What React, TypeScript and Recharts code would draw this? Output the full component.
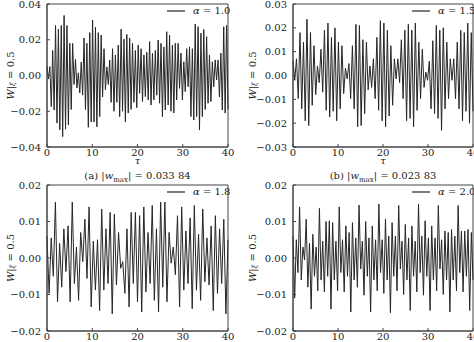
import React from "react";
import { LineChart, Line, XAxis, YAxis, ReferenceArea, Legend } from "recharts";

const FONT = "'DejaVu Serif', 'Liberation Serif', serif";
const INK = "#222";

const tauTicks = [0, 10, 20, 30, 40];
const ticksA = [-0.04, -0.02, 0, 0.02, 0.04];
const ticksB = [-0.03, -0.02, -0.01, 0, 0.01, 0.02, 0.03];
const ticksCD = [-0.02, -0.01, 0, 0.01, 0.02];

// (a) alpha = 1.0 : successive maxima / minima of W at xi = 0.5
const peaksA = [
  0.0053, 0.005, 0.014, 0.028, 0.026, 0.028, 0.0336, 0.028, 0.018, 0.018, 0.009,
  0.0015, 0.0075, 0.021, 0.018, 0.024, 0.031, 0.027, 0.024, 0.0226, 0.015, 0.0048,
  0.0087, 0.015, 0.0115, 0.017, 0.026, 0.0203, 0.023, 0.021, 0.018, 0.014, 0.017,
  0.015, 0.0115, 0.013, 0.019, 0.0124, 0.014, 0.0198, 0.018, 0.016, 0.0245, 0.0226,
  0.017, 0.018, 0.018, 0.0125, 0.0077, 0.015, 0.016, 0.015, 0.0288, 0.0273, 0.0237,
  0.0258, 0.0217, 0.0115, 0.0077, 0.0087, 0.0087, 0.0125, 0.0273, 0.028,
];
const troughsA = [
  -0.002, -0.0174, -0.0193, -0.0266, -0.0304, -0.0342, -0.03, -0.0277, -0.019, -0.005,
  -0.007, -0.0098, -0.011, -0.019, -0.029, -0.026, -0.026, -0.0287, -0.023, -0.012,
  -0.008, -0.005, -0.015, -0.02, -0.015, -0.023, -0.02, -0.026, -0.021, -0.019, -0.015,
  -0.018, -0.01, -0.0146, -0.0118, -0.0137, -0.0165, -0.0137, -0.011, -0.0155, -0.023,
  -0.0193, -0.0165, -0.02, -0.021, -0.0137, -0.0072, -0.0137, -0.009, -0.0063, -0.023,
  -0.0249, -0.023, -0.0305, -0.023, -0.019, -0.0155, -0.0146, -0.0063, -0.0025, -0.012,
  -0.0193, -0.021, -0.019,
];

// (b) alpha = 1.5
const peaksB = [
  0.006, 0.007, 0.018, 0.014, 0.0236, 0.018, 0.0125, 0.004,
  0.011, 0.019, 0.022, 0.016, 0.02, 0.014, 0.0125, 0.003,
  0.005, 0.0125, 0.0215, 0.021, 0.015, 0.014, 0.004,
  0.007, 0.016, 0.023, 0.022, 0.019, 0.0125, 0.007, 0.007,
  0.015, 0.019, 0.0215, 0.019, 0.022, 0.014, 0.011, 0.0014,
  0.006, 0.0146, 0.021, 0.019, 0.02, 0.014, 0.007,
  0.007, 0.014, 0.019, 0.018, 0.022, 0.018,
];
const troughsB = [
  -0.002, -0.0097, -0.014, -0.019, -0.021, -0.0125, -0.008, -0.003,
  -0.007, -0.0146, -0.0174, -0.015, -0.019, -0.014, -0.0076, -0.0014,
  -0.0097, -0.014, -0.0215, -0.021, -0.016, -0.006, -0.005,
  -0.0097, -0.0146, -0.019, -0.0215, -0.017, -0.0125, -0.0014, -0.003,
  -0.0097, -0.019, -0.018, -0.0215, -0.0146, -0.0097, -0.005, -0.002,
  -0.014, -0.016, -0.018, -0.023, -0.014, -0.0097, -0.002,
  -0.0097, -0.014, -0.019, -0.015, -0.02, -0.015,
];

// (c) alpha = 1.8
const peaksC = [
  0.006, 0.0055, 0.0153, 0.004, 0.008, 0.0088, 0.0153, 0.003, 0.007, 0.0106, 0.014,
  0.0046, 0.005, 0.0134, 0.008, 0.0125, 0.012, 0.007, -0.001, 0.008, 0.0125, 0.0125,
  0.0116, 0.014, 0.007, 0.0144, 0.008, 0.0153, 0.0153, 0.007, 0.003, 0.0116, 0.014,
  0.0074, 0.011, 0.0144, 0.0065, 0.0134, 0.0055, 0.0088, 0.0116, 0.008, 0.0106, 0.005,
];
const troughsC = [
  -0.0097, -0.005, -0.012, -0.008, -0.0037, -0.012, -0.007, -0.0116, -0.001, -0.0056,
  -0.0134, -0.0088, -0.0144, -0.0088, -0.007, -0.0153, -0.0074, -0.0028, -0.0097,
  -0.0134, -0.007, -0.012, -0.0148, -0.0093, -0.007, -0.0116, -0.0148, -0.008, -0.012,
  -0.0014, -0.0046, -0.0134, -0.0088, -0.007, -0.0139, -0.0088, -0.0116, -0.0065,
  -0.0074, -0.0144, -0.0097, -0.007, -0.0153,
];

// (d) alpha = 2.0
const peaksD = [
  0.006, 0.005, 0.014, 0.003, 0.0106, 0.004, 0.0065, 0.003, 0.0136, 0.0046, 0.01,
  0.0102, 0.0097, 0.0046, 0.014, 0.005, 0.0088, 0.007, 0.0097, 0.0055, 0.0145, 0.0046,
  0.01, 0.0055, 0.0088, 0.005, 0.0148, 0.005, 0.0106, 0.006, 0.0097, 0.006, 0.0144,
  0.0046, 0.0092, 0.0055, 0.0088, 0.0046, 0.0148, 0.006, 0.0102, 0.0055, 0.0088, 0.0055,
  0.0144, 0.005, 0.0074, 0.007, 0.0078, 0.006, 0.0144, 0.0074, 0.0074, 0.0078, 0.007,
];
const troughsD = [
  -0.011, -0.004, -0.006, -0.0005, -0.008, -0.014, -0.005, -0.009, -0.006, -0.0093,
  -0.005, -0.014, -0.006, -0.009, -0.004, -0.0093, -0.005, -0.0148, -0.006, -0.008,
  -0.003, -0.0102, -0.005, -0.0148, -0.006, -0.009, -0.004, -0.0097, -0.006, -0.015,
  -0.005, -0.009, -0.003, -0.01, -0.006, -0.0144, -0.005, -0.0093, -0.004, -0.0102,
  -0.005, -0.0144, -0.006, -0.009, -0.003, -0.01, -0.006, -0.0148, -0.006, -0.009,
  -0.004, -0.0093, -0.005, -0.0144, -0.006,
];

// alternate max / min values along tau in [0, 40]
function toSeries(peaks: number[], troughs: number[]) {
  const vals: number[] = [];
  const n = Math.max(peaks.length, troughs.length);
  for (let i = 0; i < n; i++) {
    if (i < peaks.length) vals.push(peaks[i]);
    if (i < troughs.length) vals.push(troughs[i]);
  }
  const step = 40 / (vals.length - 1);
  return vals.map((w, i) => ({ t: i * step, w }));
}

const fmt = (v: number) => (v < 0 ? "\u2212" : "") + Math.abs(v).toFixed(2);

function YLabel(props: any) {
  const { viewBox, dx } = props;
  const x = viewBox.x + dx;
  const y = viewBox.y + viewBox.height / 2;
  return (
    <text
      x={x}
      y={y}
      transform={`rotate(-90 ${x} ${y})`}
      textAnchor="middle"
      dominantBaseline="central"
      fill={INK}
      fontSize={10}
      fontFamily={FONT}
    >
      <tspan fontStyle="italic">W</tspan>
      <tspan>|</tspan>
      <tspan fontStyle="italic" fontSize={7} dy={3}>ξ</tspan>
      <tspan dy={-3}> = 0.5</tspan>
    </text>
  );
}

function Panel(props: any) {
  const { left, top, width, margin, yWidth, yTicks, peaks, troughs, alpha, legendLeft, labelDx } = props;
  const data = toSeries(peaks, troughs);
  const ymin = yTicks[0];
  const ymax = yTicks[yTicks.length - 1];
  const tickStyle = { fill: INK, fontSize: 10, fontFamily: FONT };
  return (
    <div style={{ position: "absolute", left, top }}>
      <LineChart width={width} height={175} data={data} margin={margin}>
        <XAxis
          dataKey="t"
          type="number"
          domain={[0, 40]}
          ticks={tauTicks}
          interval={0}
          height={20}
          tickSize={-3}
          tickMargin={5}
          stroke="#444"
          tick={tickStyle}
        />
        <YAxis
          type="number"
          domain={[ymin, ymax]}
          ticks={yTicks}
          interval={0}
          width={yWidth}
          tickSize={-3}
          tickMargin={9}
          tickFormatter={fmt}
          stroke="#444"
          tick={tickStyle}
          label={<YLabel dx={labelDx} />}
        />
        <ReferenceArea x1={0} x2={40} y1={ymin} y2={ymax} fill="none" stroke="#444" strokeWidth={1} />
        <Line
          dataKey="w"
          type="linear"
          dot={false}
          stroke="#262626"
          strokeWidth={1}
          isAnimationActive={false}
        />
        <Legend
          layout="vertical"
          align="center"
          verticalAlign="middle"
          wrapperStyle={{ left: legendLeft, top: margin.top, width: 80, height: 14 }}
          content={() => (
            <div style={{ display: "flex", alignItems: "center", fontFamily: FONT, fontSize: 10, color: INK, lineHeight: "14px" }}>
              <svg width={18} height={14} style={{ marginRight: 8 }}>
                <line x1={0} y1={7} x2={18} y2={7} stroke="#262626" strokeWidth={1.2} />
              </svg>
              <span>
                <i>α</i> = {alpha}
              </span>
            </div>
          )}
        />
      </LineChart>
    </div>
  );
}

const captionStyle: React.CSSProperties = {
  position: "absolute",
  textAlign: "center",
  fontFamily: FONT,
  fontSize: 10,
  color: INK,
  lineHeight: "14px",
  whiteSpace: "nowrap",
};

export default function App() {
  return (
    <div style={{ position: "absolute", left: 0, top: 0, width: 474, height: 342, overflow: "hidden", background: "#fff" }}>
      <Panel
        left={0}
        top={0}
        width={240}
        margin={{ top: 4, right: 12, bottom: 8, left: 0 }}
        yWidth={47}
        yTicks={ticksA}
        peaks={peaksA}
        troughs={troughsA}
        alpha="1.0"
        legendLeft={167}
        labelDx={10}
      />
      <Panel
        left={240}
        top={0}
        width={250}
        margin={{ top: 4, right: 17, bottom: 8, left: 0 }}
        yWidth={53}
        yTicks={ticksB}
        peaks={peaksB}
        troughs={troughsB}
        alpha="1.5"
        legendLeft={172}
        labelDx={12}
      />
      <Panel
        left={0}
        top={180}
        width={240}
        margin={{ top: 5, right: 12, bottom: 4, left: 0 }}
        yWidth={47}
        yTicks={ticksCD}
        peaks={peaksC}
        troughs={troughsC}
        alpha="1.8"
        legendLeft={167}
        labelDx={10}
      />
      <Panel
        left={240}
        top={180}
        width={250}
        margin={{ top: 5, right: 17, bottom: 4, left: 0 }}
        yWidth={53}
        yTicks={ticksCD}
        peaks={peaksD}
        troughs={troughsD}
        alpha="2.0"
        legendLeft={172}
        labelDx={12}
      />
      <div style={{ ...captionStyle, left: 47, width: 181, top: 154, fontStyle: "italic" }}>τ</div>
      <div style={{ ...captionStyle, left: 293, width: 180, top: 154, fontStyle: "italic" }}>τ</div>
      <div style={{ ...captionStyle, left: 47, width: 181, top: 169 }}>
        (a) |<i>w</i>
        <sub style={{ fontSize: 7 }}>max</sub>| = 0.033 84
      </div>
      <div style={{ ...captionStyle, left: 293, width: 180, top: 169 }}>
        (b) |<i>w</i>
        <sub style={{ fontSize: 7 }}>max</sub>| = 0.023 83
      </div>
    </div>
  );
}
